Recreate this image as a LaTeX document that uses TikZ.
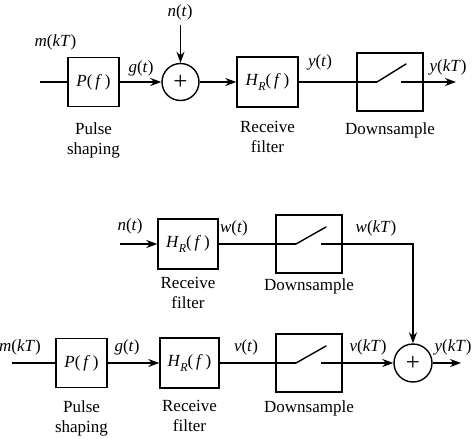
\documentclass[tikz,border=0pt]{standalone}
\usepackage{fontspec}
\setmainfont{Liberation Serif}
\usetikzlibrary{arrows.meta,calc}
\newcommand{\sig}[2]{\textit{#1}(\textit{#2})}
\newcommand{\Pf}{\textit{P}(\,\textit{f}\,)}
\newcommand{\HR}{\textit{H}\kern-0.5pt\raisebox{-0.28em}{\fontsize{12}{12}\selectfont\textit{R}}(\,\textit{f}\,)}

\begin{document}
\begin{tikzpicture}[x=1pt,y=-1pt,>={Stealth[length=11pt,width=8pt]},
  line width=1.4pt,
  every node/.style={font=\fontsize{17}{20}\selectfont},
  block/.style={draw,minimum width=51pt,minimum height=49pt,inner sep=0pt},
  filt/.style={block,minimum width=61pt,minimum height=50pt},
  samp/.style={block,minimum width=66pt,minimum height=58pt},
  adder/.style={draw,circle,minimum size=37pt,inner sep=0pt,
                font=\fontsize{25}{25}\selectfont},
  caption/.style={anchor=north,align=center,inner sep=0pt},
  lbl/.style={inner sep=0pt},
  arm/.style={line cap=round}]
\useasboundingbox (0,0) rectangle (474,439);
% top chain
\node[block] (P1) at (93.5,82) {\Pf};
\node[adder] (S1) at (180.5,82) {+};
\node[filt] (H1) at (267.5,82) {\HR};
\node[samp] (D1) at (390,82) {};
\coordinate (in1) at (40,82);
\coordinate (n1) at (180.5,25);
\coordinate (out1) at (456,82);
\coordinate (D1a) at ($(D1)+(-13,0)$);
\coordinate (D1b) at ($(D1)+(16,-18)$);
\coordinate (D1c) at ($(D1)+(11,0)$);
\node[lbl] (m1) at (55.5,42) {\sig{m}{kT}};
\node[lbl] (nn1) at (180,12) {\sig{n}{t}};
\node[lbl] (g1) at (141,68) {\sig{g}{t}};
\node[lbl] (y1) at (320,62) {\sig{y}{t}};
\node[lbl] (yk1) at (448,67) {\sig{y}{kT}};
\node[caption] (c1) at (93.5,122) {Pulse\\shaping};
\node[caption] (c2) at (267.5,121) {Receive\\filter};
\node[caption] (c3) at (390,122) {Downsample};
% noise branch
\node[filt,minimum width=60pt] (H2) at (188,244) {\HR};
\node[samp] (D2) at (309,244) {};
\coordinate (n2) at (120,244);
\coordinate (D2a) at ($(D2)+(-13,0)$);
\coordinate (D2b) at ($(D2)+(17,-17)$);
\coordinate (D2c) at ($(D2)+(12,0)$);
\node[lbl] (nn2) at (130,226) {\sig{n}{t}};
\node[lbl] (w2) at (234,228) {\sig{w}{t}};
\node[lbl] (wk2) at (376,228) {\sig{w}{kT}};
\node[caption] (c4) at (188,277) {Receive\\filter};
\node[caption] (c5) at (309,278) {Downsample};
% signal branch
\node[block] (P3) at (81.5,363) {\Pf};
\node[filt,minimum width=59pt] (H3) at (189.5,363) {\HR};
\node[samp] (D3) at (309,363) {};
\node[adder,minimum size=38pt] (S2) at (413,363) {+};
\coordinate (in3) at (12,363);
\coordinate (out3) at (461,363);
\coordinate (D3a) at ($(D3)+(-13,0)$);
\coordinate (D3b) at ($(D3)+(17,-17)$);
\coordinate (D3c) at ($(D3)+(12,0)$);
\node[lbl] (m3) at (20,347) {\sig{m}{kT}};
\node[lbl] (g3) at (127,347) {\sig{g}{t}};
\node[lbl] (v3) at (246,347) {\sig{v}{t}};
\node[lbl] (vk3) at (368,347) {\sig{v}{kT}};
\node[lbl] (yk3) at (453,347) {\sig{y}{kT}};
\node[caption] (c6) at (81.5,400) {Pulse\\shaping};
\node[caption] (c7) at (189.5,400) {Receive\\filter};
\node[caption] (c8) at (309,400) {Downsample};
% connectors
\draw (in1) -- (P1);
\draw[->] (P1) -- (S1);
\draw[->] (n1) -- (S1);
\draw[->] (S1) -- (H1);
\draw (H1) -- (D1a);
\draw[arm] (D1a) -- (D1b);
\draw[->] (D1c) -- (out1);
\draw[->] (n2) -- (H2);
\draw (H2) -- (D2a);
\draw[arm] (D2a) -- (D2b);
\draw[->] (D2c) -| (S2);
\draw (in3) -- (P3);
\draw[->] (P3) -- (H3);
\draw (H3) -- (D3a);
\draw[arm] (D3a) -- (D3b);
\draw[->] (D3c) -- (S2);
\draw[->] (S2) -- (out3);
\end{tikzpicture}
\end{document}
